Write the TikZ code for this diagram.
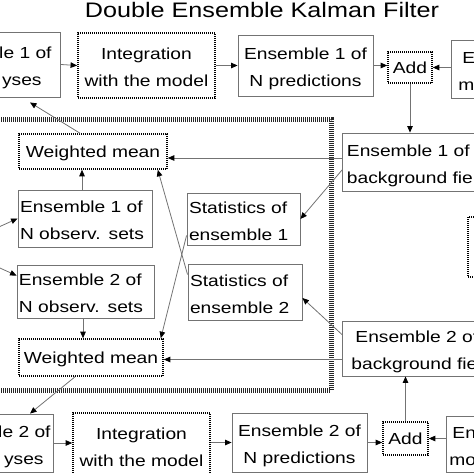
\documentclass[tikz,border=0pt]{standalone}
\usepackage{fontspec}
\setmainfont{Liberation Sans}[FakeStretch=1.2]
\usetikzlibrary{arrows.meta}

\tikzset{
  txt/.style={inner sep=0pt, font=\fontsize{16}{27}\selectfont},
  one/.style={text depth=0pt},
  two/.style={text depth=23pt},
  box/.style={txt, two, draw=black!55, line width=0.9pt},
  dotline/.style={draw=black, line width=1.6pt, dash pattern=on 1pt off 1pt},
  dotbox/.style={txt, two, dotline, align=center},
  frame/.style={draw=black!85, line width=5pt, dash pattern=on 1pt off 1pt},
  arr/.style={draw=black!55, line width=0.8pt, -{Triangle[length=6.5pt,width=5.5pt,color=black]}},
}

\begin{document}
\begin{tikzpicture}[x=1pt, y=-1pt]
      \useasboundingbox (0,0) rectangle (474,474);
      \clip (0,0) rectangle (474,474);
      % Draw the title
      \node[inner sep=0pt, font=\fontsize{21}{25}\selectfont] (title) at (262,10) {Double Ensemble Kalman Filter};
      % Draw the frame of the analysis step
      \draw[frame] (-10,119) rectangle (331,390);
      \draw[dotline] (468,217) rectangle (500,277);
      % Draw the upper row
      \node[box, anchor=east, align=right, text width=130pt, inner xsep=9pt, minimum height=65pt] (ana1) at (61,64.5) {le 1 of\\yses\kern10pt};
      \node[dotbox, text width=133pt, inner xsep=2pt, minimum height=65pt] (integ1) at (146.4,65.5) {Integration\\with the model};
      \node[box, align=center, text width=131pt, inner xsep=2pt, minimum height=61pt] (pred1) at (305.5,65.5) {Ensemble 1 of\\N predictions};
      \node[dotbox, one, minimum width=44pt, minimum height=31pt] (add1) at (410,67.5) {Add};
      \node[box, anchor=west, align=left, text width=120pt, inner xsep=7pt, minimum height=58pt] (err1) at (451,69) {\hspace*{4pt}E\\m};
      \node[box, anchor=west, align=left, text width=150pt, inner xsep=4.5pt, minimum height=58pt] (bg1) at (342,162) {Ensemble 1 of\\background fie};
      % Draw the analysis step
      \node[dotbox, one, minimum width=148pt, minimum height=35pt] (wm1) at (93,151.5) {Weighted mean};
      \node[box, align=left, text width=130pt, inner xsep=2pt, minimum height=57pt] (obs1) at (85,218.5) {Ensemble 1 of\\N observ. sets};
      \node[box, align=left, text width=109pt, inner xsep=2pt, minimum height=52pt] (st1) at (243.5,219) {Statistics of\\ensemble 1};
      \node[box, align=left, text width=110pt, inner xsep=2pt, minimum height=56pt] (st2) at (245,292) {Statistics of\\ensemble 2};
      \node[box, align=left, text width=133pt, inner xsep=2pt, minimum height=53pt] (obs2) at (85.5,291.5) {Ensemble 2 of\\N observ. sets};
      \node[dotbox, one, minimum width=144pt, minimum height=37pt] (wm2) at (91,357.5) {Weighted mean};
      \coordinate (obsin1) at (-10,231);
      \coordinate (obsin2) at (-10,263.5);
      % Draw the lower row
      \node[box, anchor=west, align=left, text width=150pt, inner xsep=9pt, minimum height=55pt] (bg2) at (342,348.5) {\hspace*{4pt}Ensemble 2 of\\background fie};
      \node[box, anchor=east, align=right, text width=130pt, inner xsep=3pt, minimum height=58pt] (ana2) at (54,443) {le 2 of\\yses\kern7pt};
      \node[dotbox, text width=133pt, inner xsep=2pt, minimum height=65pt] (integ2) at (141.5,445.5) {Integration\\with the model};
      \node[box, align=center, text width=131pt, inner xsep=2pt, minimum height=59pt] (pred2) at (299.5,442.5) {Ensemble 2 of\\N predictions};
      \node[dotbox, one, minimum width=45pt, minimum height=33pt] (add2) at (405.5,438.5) {Add};
      \node[box, anchor=west, align=left, text width=120pt, inner xsep=3pt, minimum height=56pt] (err2) at (446,444) {\hspace*{3pt}En\\mo};
      % Draw the arrows
      \draw[arr] (ana1.east) -- (integ1.west);
      \draw[arr] (integ1.east) -- (pred1.west);
      \draw[arr] (pred1.east) -- (pred1.east -| add1.west);
      \draw[arr] (add1.east -| err1.west) -- (add1.east);
      \draw[arr] (add1.south) -- (add1.south |- bg1.north);
      \draw[arr] ([yshift=4pt]bg1.west) -- ([yshift=4pt]bg1.west -| wm1.east);
      \draw[arr] ([yshift=-8pt]bg1.west) -- (st1.east);
      \draw[arr] ([xshift=-3pt]obs1.north) -- ([xshift=-3pt]obs1.north |- wm1.south);
      \draw[arr] (obsin1) -- (obs1.west);
      \draw[arr] (obsin2) -- ([yshift=-11pt]obs2.north west);
      \draw[arr] ([yshift=-11pt]st2.north west) -- ([xshift=-10pt]wm1.south east);
      \draw[arr] ([yshift=10pt]st1.south west) -- ([xshift=-3pt]wm2.north east);
      \draw[arr] ([yshift=-14pt]bg2.north west) -- ([yshift=-6pt]st2.east);
      \draw[arr] ([yshift=-11pt]bg2.west) -- ([yshift=-11pt]bg2.west -| wm2.east);
      \draw[arr] ([xshift=-2.5pt]obs2.south) -- ([xshift=-2.5pt]obs2.south |- wm2.north);
      \draw[arr] ([xshift=-13pt]wm1.north) -- ([xshift=-31pt,yshift=-5pt]ana1.south east);
      \draw[arr] ([xshift=-16pt]wm2.south) -- ([xshift=-24pt]ana2.north east);
      \draw[arr] (ana2.east) -- (ana2.east -| integ2.west);
      \draw[arr] (pred2.west -| integ2.east) -- (pred2.west);
      \draw[arr] (pred2.east) -- (pred2.east -| add2.west);
      \draw[arr] (add2.east -| err2.west) -- (add2.east);
      \draw[arr] (add2.north) -- (add2.north |- bg2.south);
\end{tikzpicture}
\end{document}
